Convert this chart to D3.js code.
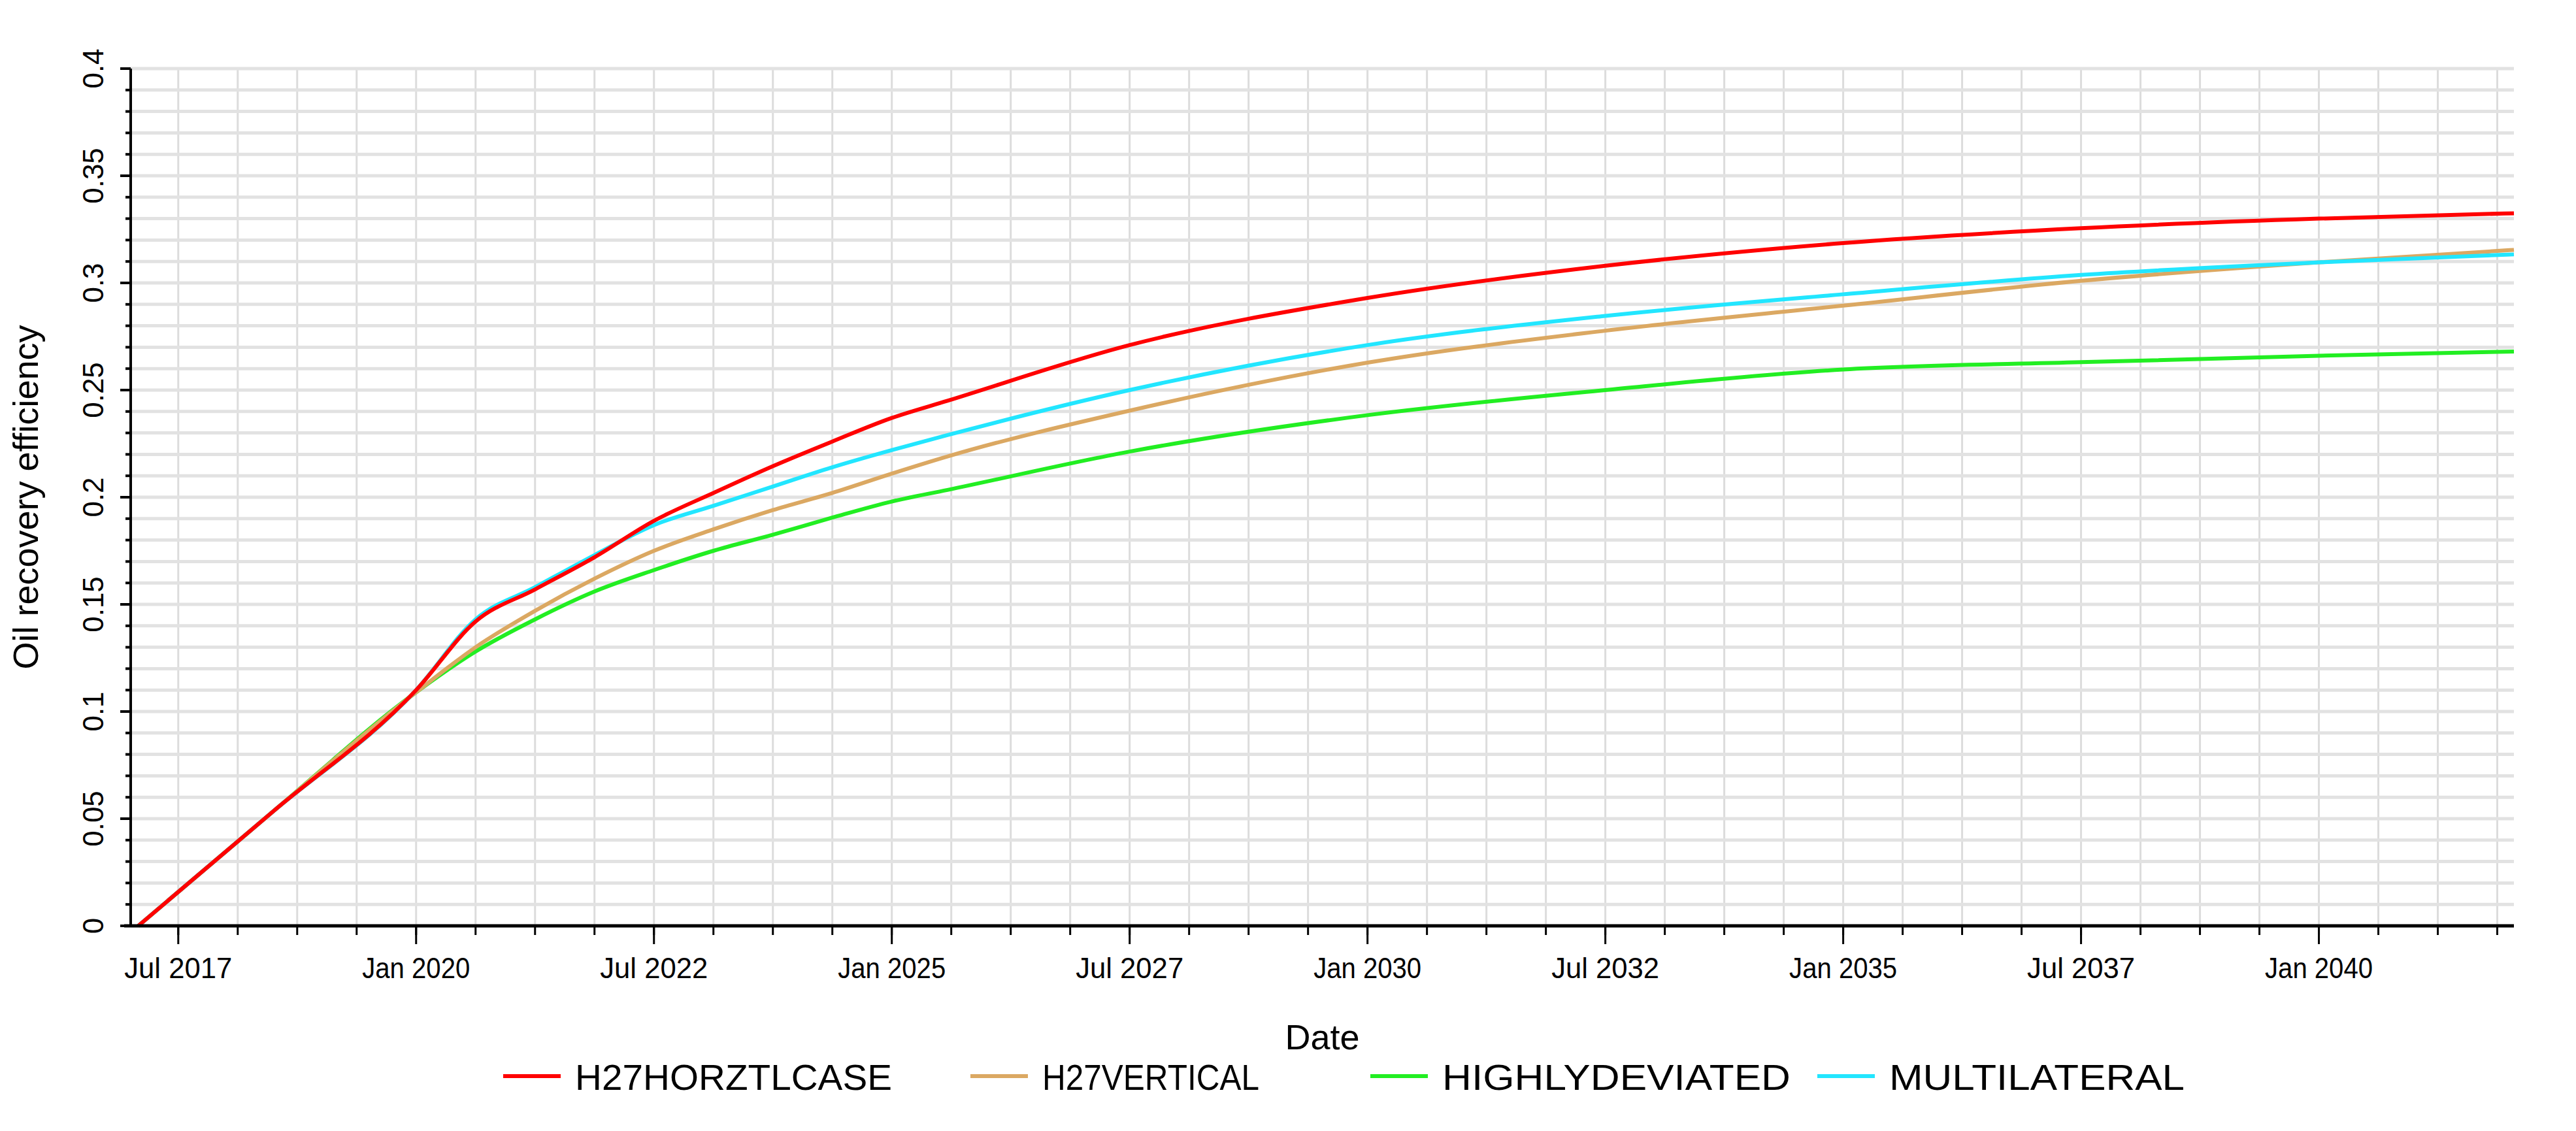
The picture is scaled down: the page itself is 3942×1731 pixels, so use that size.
<!DOCTYPE html>
<html><head><meta charset="utf-8">
<script src="https://cdn.jsdelivr.net/npm/d3@7"></script>
<style>body{margin:0;background:#fff}text{font-family:"Liberation Sans Narrow","Arial Narrow","Liberation Sans",Arial,sans-serif}</style>
</head><body><svg width="3942" height="1731"></svg>
<script>
// decimal years
const years = [2017.08, 2018.5, 2020.0, 2020.625, 2021.25, 2021.875, 2022.5, 2023.125, 2023.75, 2024.375, 2025.0, 2025.585, 2027.5, 2030.0, 2032.5, 2035.0, 2037.5, 2040.0, 2042.05];
const horz  = [0, 0.0535, 0.110, 0.142, 0.157, 0.172, 0.189, 0.202, 0.2145, 0.226, 0.237, 0.245, 0.271, 0.293, 0.308, 0.3186, 0.3255, 0.330, 0.3325];
const vert  = [0, 0.0535, 0.109, 0.130, 0.147, 0.162, 0.175, 0.185, 0.194, 0.202, 0.211, 0.219, 0.2404, 0.2628, 0.2777, 0.2894, 0.301, 0.3096, 0.3154];
const devi  = [0, 0.0535, 0.109, 0.128, 0.143, 0.156, 0.166, 0.175, 0.1825, 0.1905, 0.198, 0.2034, 0.2213, 0.2383, 0.250, 0.2596, 0.263, 0.266, 0.268];
const multi = [0, 0.0535, 0.110, 0.143, 0.158, 0.173, 0.187, 0.196, 0.205, 0.214, 0.222, 0.229, 0.250, 0.271, 0.2846, 0.2947, 0.3037, 0.3096, 0.3133];
const seriesNames = ['H27HORZTLCASE', 'H27VERTICAL', 'HIGHLYDEVIATED', 'MULTILATERAL'];
const seriesColors = ['#ff0000', '#dba862', '#22ee22', '#22e6ff'];
const xTickLabels = ['Jul 2017', 'Jan 2020', 'Jul 2022', 'Jan 2025', 'Jul 2027', 'Jan 2030', 'Jul 2032', 'Jan 2035', 'Jul 2037', 'Jan 2040'];
const yTickLabels = ['0', '0.05', '0.1', '0.15', '0.2', '0.25', '0.3', '0.35', '0.4'];

const m = { left: 200, right: 3847, top: 105, bottom: 1417 };
const svg = d3.select('svg');

const x = d3.scaleLinear().domain([2017.0, 2042.05]).range([m.left, m.right]);
const y = d3.scaleLinear().domain([0, 0.4]).range([m.bottom, m.top]);

const majorX = xTickLabels.map((d, i) => 2017.5 + 2.5 * i);
const minorX = d3.range(2017.5, 2042.05, 0.625);
const minorY = d3.range(0, 0.4001, 0.01);

// ---- Grid
const grid = svg.append('g');
grid.selectAll('.gx').data(minorX).join('line')
    .attr('x1', d => x(d)).attr('x2', d => x(d))
    .attr('y1', m.top).attr('y2', m.bottom)
    .attr('stroke', '#dcdcdc').attr('stroke-width', 3);
grid.selectAll('.gy').data(minorY).join('line')
    .attr('x1', m.left).attr('x2', m.right)
    .attr('y1', d => y(d)).attr('y2', d => y(d))
    .attr('stroke', '#e2e2e2').attr('stroke-width', 5);

// ---- Lines
const line = d3.line().x(d => x(d[0])).y(d => y(d[1])).curve(d3.curveMonotoneX);
const allSeries = [horz, vert, devi, multi];
[2, 1, 3, 0].forEach(i => {
    svg.append('path')
        .datum(years.map((yr, j) => [yr, allSeries[i][j]]))
        .attr('d', line)
        .attr('fill', 'none')
        .attr('stroke', seriesColors[i])
        .attr('stroke-width', 6);
});

// ---- Axes
const xAxis = svg.append('g');
xAxis.append('line').attr('x1', m.left - 10).attr('x2', m.right).attr('y1', m.bottom).attr('y2', m.bottom)
    .attr('stroke', '#000').attr('stroke-width', 5);
xAxis.selectAll('.mx').data(minorX).join('line')
    .attr('x1', d => x(d)).attr('x2', d => x(d)).attr('y1', m.bottom).attr('y2', m.bottom + 14)
    .attr('stroke', '#000').attr('stroke-width', 3);
xAxis.selectAll('.Mx').data(majorX).join('line')
    .attr('x1', d => x(d)).attr('x2', d => x(d)).attr('y1', m.bottom).attr('y2', m.bottom + 28)
    .attr('stroke', '#000').attr('stroke-width', 3);
xAxis.selectAll('text').data(majorX).join('text')
    .attr('x', d => x(d)).attr('y', m.bottom + 80)
    .attr('text-anchor', 'middle').style('font-size', '44px')
    .attr('textLength', 165).attr('lengthAdjust', 'spacingAndGlyphs')
    .text((d, i) => xTickLabels[i]);
svg.append('text').attr('x', (m.left + m.right) / 2).attr('y', 1606)
    .attr('text-anchor', 'middle').style('font-size', '54px').text('Date');

const yAxis = svg.append('g');
yAxis.append('line').attr('x1', m.left).attr('x2', m.left).attr('y1', m.top).attr('y2', m.bottom)
    .attr('stroke', '#000').attr('stroke-width', 4);
yAxis.selectAll('.my').data(minorY).join('line')
    .attr('x1', m.left - 8).attr('x2', m.left).attr('y1', d => y(d)).attr('y2', d => y(d))
    .attr('stroke', '#000').attr('stroke-width', 4);
yAxis.selectAll('.My').data(yTickLabels).join('line')
    .attr('x1', m.left - 16).attr('x2', m.left).attr('y1', d => y(+d)).attr('y2', d => y(+d))
    .attr('stroke', '#000').attr('stroke-width', 4);
yAxis.selectAll('text').data(yTickLabels).join('text')
    .attr('transform', d => `translate(${m.left - 42},${y(+d)}) rotate(-90)`)
    .attr('text-anchor', 'middle').style('font-size', '44px').text(d => d);
svg.append('text').attr('transform', `translate(58,${(m.top + m.bottom) / 2}) rotate(-90)`)
    .attr('text-anchor', 'middle').style('font-size', '54px').text('Oil recovery efficiency');

// ---- Legend
const legendX = [770, 1485, 2097, 2781];
const legendW = [485, 332, 533, 452];
const leg = svg.append('g');
seriesNames.forEach((name, i) => {
    leg.append('line').attr('x1', legendX[i]).attr('x2', legendX[i] + 88)
        .attr('y1', 1647).attr('y2', 1647).attr('stroke', seriesColors[i]).attr('stroke-width', 6);
    leg.append('text').attr('x', legendX[i] + 110).attr('y', 1668)
        .style('font-size', '56px')
        .attr('textLength', legendW[i]).attr('lengthAdjust', 'spacingAndGlyphs')
        .text(name);
});
</script></body></html>
